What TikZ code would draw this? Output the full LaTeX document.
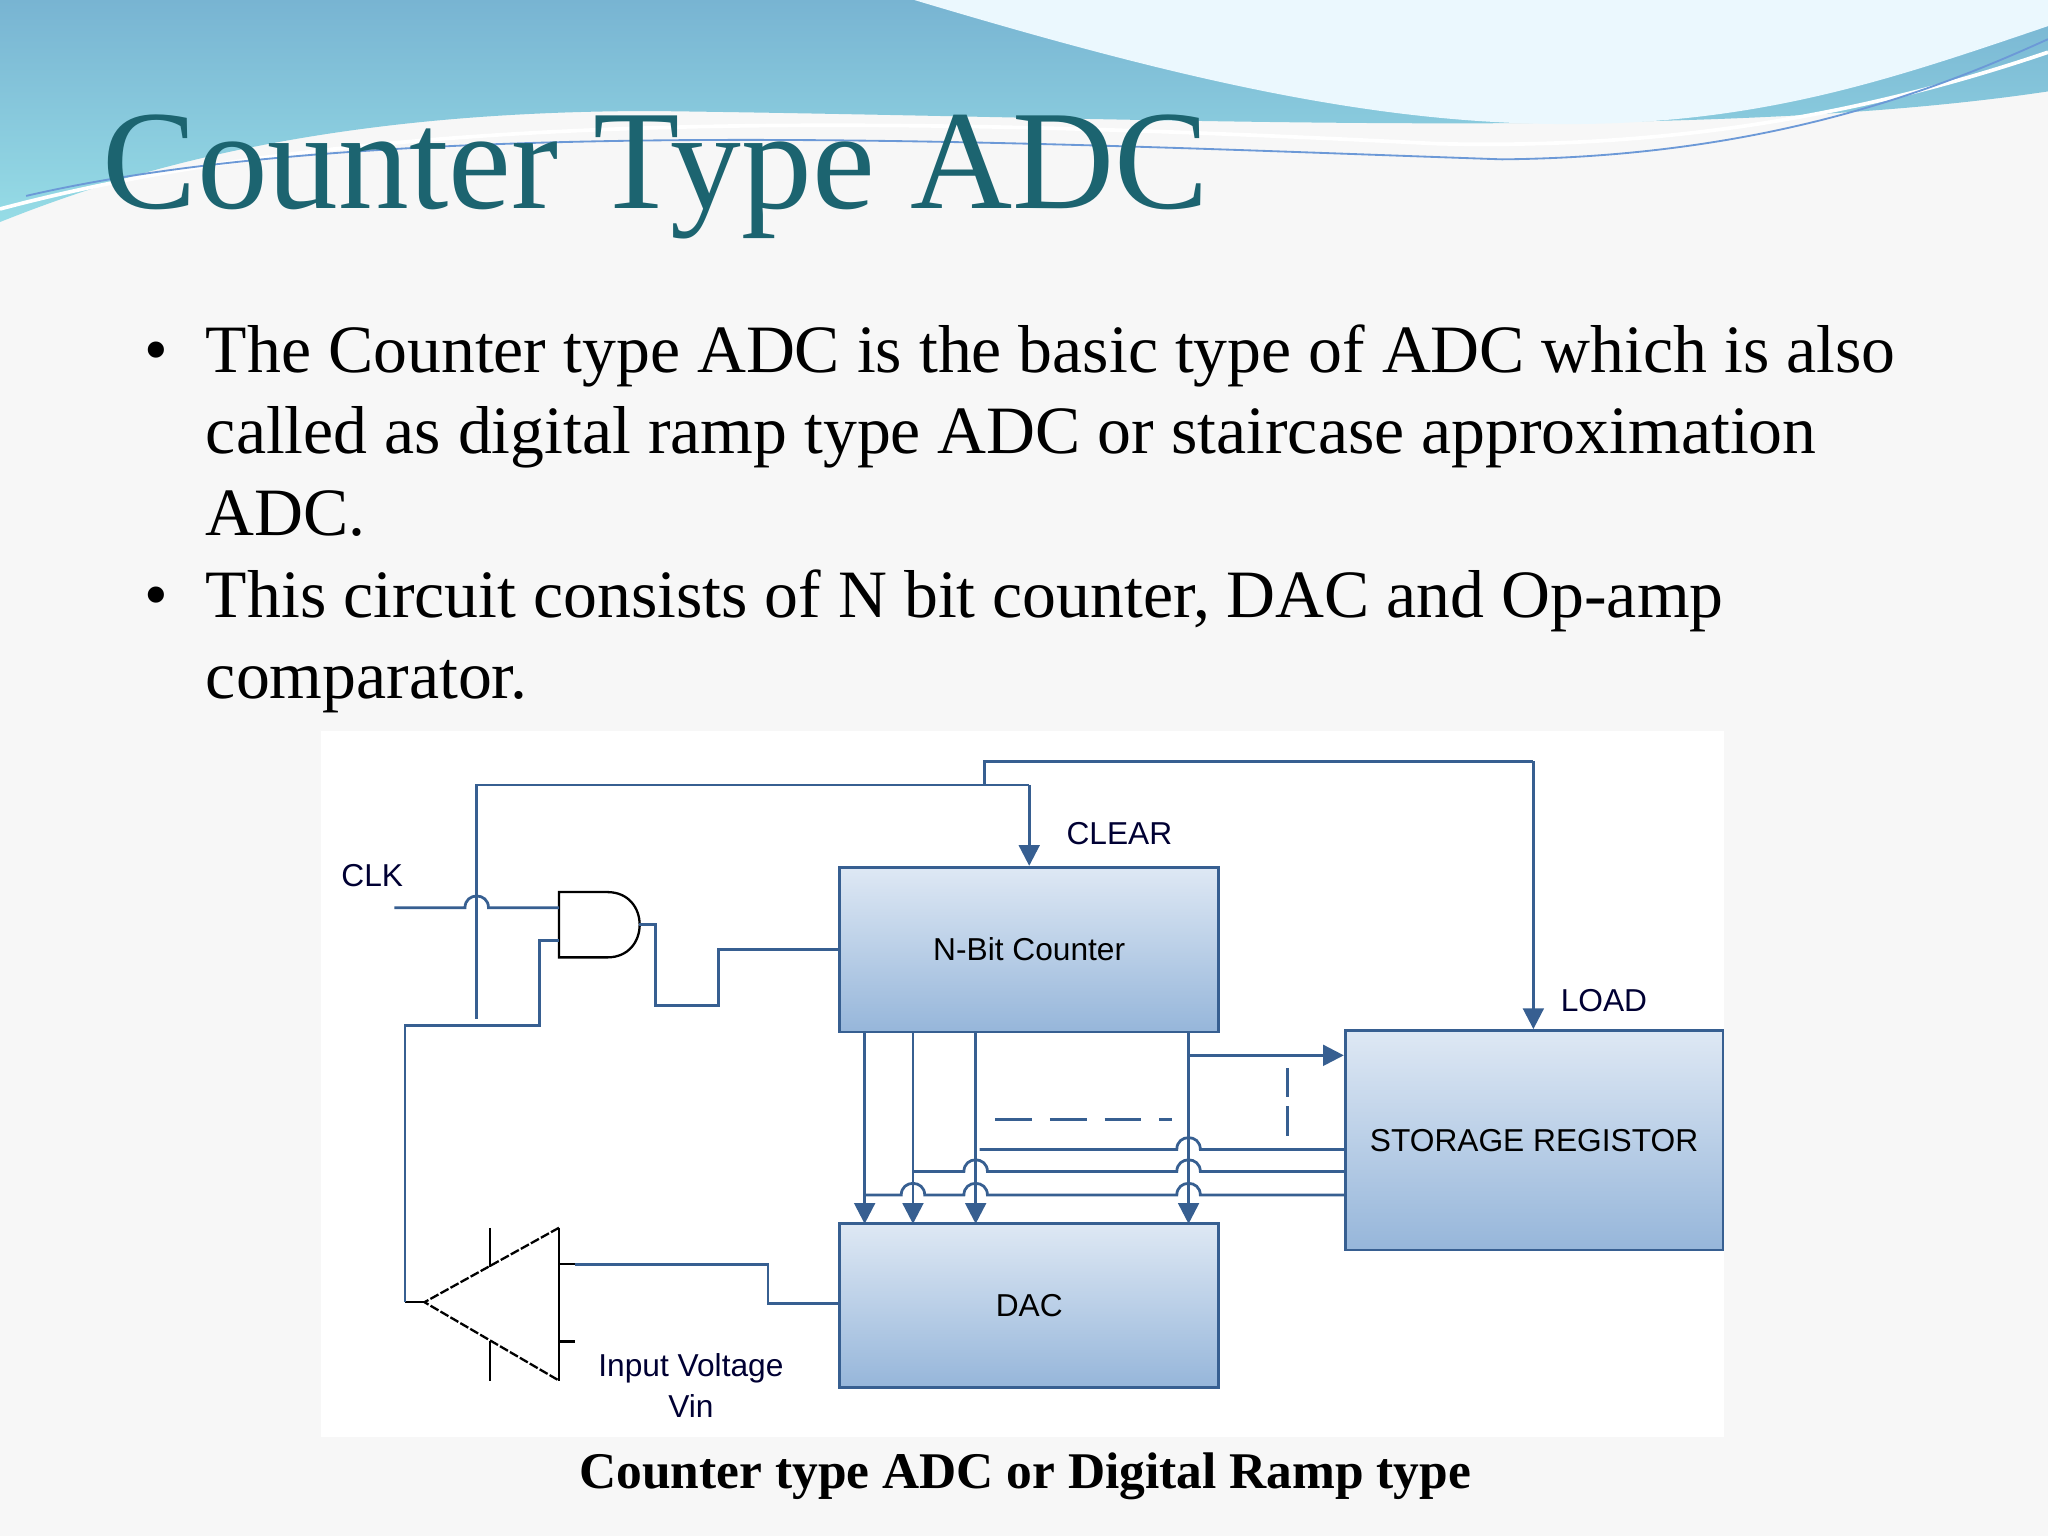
\documentclass[tikz,border=0pt]{standalone}
\usepackage{fontspec}
\setmainfont{Liberation Serif}
\setsansfont{Liberation Sans}
\usetikzlibrary{arrows.meta}
\definecolor{wire}{RGB}{55,95,145}
\definecolor{titlec}{RGB}{28,100,112}
\definecolor{boxtop}{RGB}{222,232,244}
\definecolor{boxbot}{RGB}{150,182,218}
\tikzset{
  w/.style={draw=wire,line width=0.6pt},
  blk/.style={draw=black,line width=0.5pt},
  tip/.style={-{Triangle[width=4.5pt,length=4.5pt]}},
  box/.style={draw=wire,line width=0.6pt,top color=boxtop,bottom color=boxbot,inner sep=0pt,font=\sffamily\fontsize{6.9}{9}\selectfont},
  lab/.style={font=\sffamily\fontsize{6.9}{9}\selectfont,text=black!80!blue},
  bul/.style={anchor=base west,font=\fontsize{14.75}{17}\selectfont,inner sep=0pt}
}
\newcommand{\hopx}[2]{-- ({#1-9},#2) .. controls ({#1-9},{#2-12}) and ({#1+9},{#2-12}) .. ({#1+9},#2)}
\begin{document}
\begin{tikzpicture}[x=0.01cm,y=-0.01cm]
\useasboundingbox (0,0) rectangle (1568,1176);
\fill[gray!6] (0,0) rectangle (1568,1176);
% top wave
\shade[top color={rgb,255:red,120;green,180;blue,210},bottom color={rgb,255:red,150;green,220;blue,230}]
  (0,0) -- (1568,0) -- (1568,70) .. controls (1300,110) and (900,90) .. (500,85) .. controls (250,85) and (100,130) .. (0,170) -- cycle;
\fill[white!92!cyan] (700,0) .. controls (900,60) and (1050,95) .. (1200,95) .. controls (1350,95) and (1450,60) .. (1568,20) -- (1568,0) -- cycle;
\draw[white,line width=0.8pt] (0,160) .. controls (300,80) and (700,90) .. (1100,110) .. controls (1300,115) and (1450,80) .. (1568,40);
\draw[cyan!50!blue!60,line width=0.4pt] (20,150) .. controls (300,85) and (800,110) .. (1150,122) .. controls (1350,120) and (1480,70) .. (1568,30);
% title
\node[anchor=base west,inner sep=0pt,text=titlec,font=\fontsize{30.8}{36}\selectfont] (title) at (78,160) {Counter Type ADC};
% bullets
\node[bul] (b1) at (110,285) {•};
\node[bul] (t1) at (157,285) {The Counter type ADC is the basic type of ADC which is also};
\node[bul] (t2) at (157,347) {called as digital ramp type ADC or staircase approximation};
\node[bul] (t3) at (157,410) {ADC.};
\node[bul] (b2) at (110,473) {•};
\node[bul] (t4) at (157,473) {This circuit consists of N bit counter, DAC and Op-amp};
\node[bul] (t5) at (157,535) {comparator.};
% diagram panel
\fill[white] (246,560) rectangle (1320,1100);
% boxes
\node[box,minimum width=2.9cm,minimum height=1.26cm] (cnt) at (788,727) {N-Bit Counter};
\node[box,minimum width=2.89cm,minimum height=1.68cm] (sto) at (1174.5,873) {STORAGE REGISTOR};
\node[box,minimum width=2.9cm,minimum height=1.25cm] (dac) at (788,999.5) {DAC};
% labels
\node[lab] (clk) at (285,670) {CLK};
\node[lab] (clr) at (857,638) {CLEAR};
\node[lab] (ld) at (1228,766) {LOAD};
\node[lab,align=center] (vin) at (529,1061) {Input Voltage\\Vin};
% coordinates
\coordinate (cout) at (310,997);
% AND gate
\draw[blk,fill=white] (428,683) -- (465,683) .. controls (498,683) and (498,733) .. (465,733) -- (428,733) -- cycle;
\coordinate (gout) at (489,708);
% CLK wire with hop
\draw[w] (302,695) \hopx{365}{695} -- (428,695);
% comparator
\draw[blk,dash pattern=on 2pt off 0.5pt] (428,940) -- (325,997) -- (428,1057);
\draw[blk] (428,940) -- (428,1057);
\draw[blk] (375,940) -- (375,970) (375,1027) -- (375,1057);
\draw[blk] (428,968) -- (440,968) (428,1027) -- (440,1027) (310,997) -- (325,997);
\draw[w] (440,968) -- (588,968) -- (588,998) -- (dac.west |- 0,998);
% feedback
\draw[w] (cout) -- (310,785) -- (413,785) -- (413,720) -- (428,720);
\draw[w] (365,780) -- (365,601) -- (788,601);
\draw[w,tip] (788,601) -- (cnt.north -| 788,0);
\draw[w] (754,601) -- (754,583) -- (1174,583);
\draw[w,tip] (1174,583) -- (sto.north -| 1174,0);
% gate to counter
\draw[w] (gout) -- (502,708) -- (502,770) -- (550,770) -- (550,727) -- (cnt.west);
% bus lines
\foreach \x in {662,699,747,910}{\draw[w,tip] (\x,790) -- (\x,937);}
\draw[w,tip] (910,808) -- (sto.west |- 0,808);
\draw[w] (662,915) \hopx{699}{915} \hopx{747}{915} \hopx{910}{915} -- (sto.west |- 0,915);
\draw[w] (699,897) \hopx{747}{897} \hopx{910}{897} -- (sto.west |- 0,897);
\draw[w] (750,880) \hopx{910}{880} -- (sto.west |- 0,880);
\draw[w,dash pattern=on 8pt off 3.9pt] (762,857) -- (897,857);
\draw[w] (986,818) -- (986,840) (986,847) -- (986,870);
% caption
\node[inner sep=0pt,font=\bfseries\fontsize{11.2}{13}\selectfont] (cap) at (785,1130) {Counter type ADC or Digital Ramp type};
\end{tikzpicture}
\end{document}
